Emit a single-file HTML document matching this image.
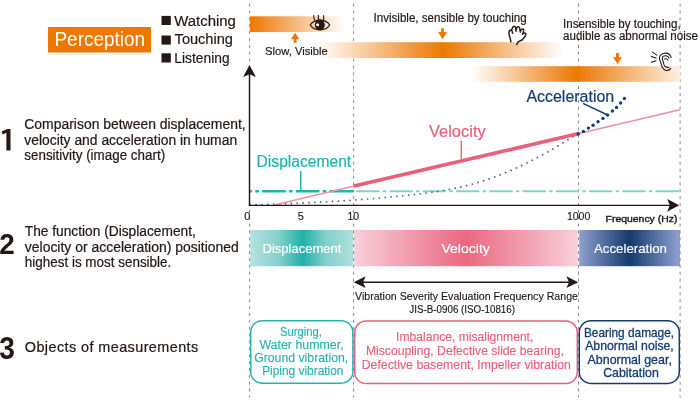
<!DOCTYPE html>
<html>
<head>
<meta charset="utf-8">
<title>Vibration perception chart</title>
<style>
html,body{margin:0;padding:0;background:#fff;}
body{width:700px;height:400px;overflow:hidden;font-family:"Liberation Sans",sans-serif;}
svg{display:block;}
text{font-family:"Liberation Sans",sans-serif;}
svg{will-change:transform;background:transparent;}
</style>
</head>
<body>
<svg width="700" height="400" viewBox="0 0 700 400">
<defs>
  <linearGradient id="gb1" x1="0" y1="0" x2="1" y2="0">
    <stop offset="0" stop-color="#ed7803"/>
    <stop offset="0.06" stop-color="#ee8011"/>
    <stop offset="1" stop-color="#ffffff"/>
  </linearGradient>
  <linearGradient id="gb2" x1="0" y1="0" x2="1" y2="0">
    <stop offset="0" stop-color="#ffffff"/>
    <stop offset="0.51" stop-color="#ed7803"/>
    <stop offset="1" stop-color="#ffffff"/>
  </linearGradient>
  <linearGradient id="gb3" gradientUnits="userSpaceOnUse" x1="471" y1="0" x2="694" y2="0">
    <stop offset="0" stop-color="#ffffff"/>
    <stop offset="0.473" stop-color="#ed7803"/>
    <stop offset="1" stop-color="#ffffff"/>
  </linearGradient>
  <linearGradient id="gd" x1="0" y1="0" x2="1" y2="0">
    <stop offset="0" stop-color="#b4e2df"/>
    <stop offset="0.28" stop-color="#84d0cb"/>
    <stop offset="0.43" stop-color="#45bbb5"/>
    <stop offset="0.51" stop-color="#1fb1aa"/>
    <stop offset="0.59" stop-color="#45bbb5"/>
    <stop offset="0.74" stop-color="#84d0cb"/>
    <stop offset="1" stop-color="#b0e0dd"/>
  </linearGradient>
  <linearGradient id="gv" x1="0" y1="0" x2="1" y2="0">
    <stop offset="0" stop-color="#f9cfdb"/>
    <stop offset="0.5" stop-color="#eb6881"/>
    <stop offset="1" stop-color="#f9cfdb"/>
  </linearGradient>
  <linearGradient id="ga" x1="0" y1="0" x2="1" y2="0">
    <stop offset="0" stop-color="#90a0d0"/>
    <stop offset="0.5" stop-color="#153a6c"/>
    <stop offset="1" stop-color="#90a2d2"/>
  </linearGradient>
</defs>

<!-- function bar fills -->
<rect x="250.2" y="230" width="102.9" height="36.2" fill="url(#gd)"/>
<rect x="354.1" y="230" width="223.7" height="36.2" fill="url(#gv)"/>
<rect x="579.2" y="230" width="100.8" height="36.2" fill="url(#ga)"/>

<!-- vertical dashed guides -->
<g stroke="#626262" stroke-width="0.75" stroke-dasharray="3 3.875" fill="none">
  <line x1="249.6" y1="3.6" x2="249.6" y2="397.5"/>
  <line x1="353.6" y1="3.6" x2="353.6" y2="397.5"/>
  <line x1="578.5" y1="3.6" x2="578.5" y2="397.5"/>
  <line x1="680.1" y1="3.6" x2="680.1" y2="397.5"/>
</g>

<!-- perception bars -->
<rect x="250" y="16.3" width="95" height="15.8" fill="url(#gb1)"/>
<rect x="318" y="42.2" width="245" height="15.8" fill="url(#gb2)"/>
<rect x="471" y="66.2" width="209.3" height="15.6" fill="url(#gb3)"/>


<!-- Perception box -->
<rect x="48" y="27" width="103" height="25.5" fill="#ed7801"/>
<text x="54.5" y="45.5" font-size="19.5" fill="#ffffff" textLength="90.5" lengthAdjust="spacingAndGlyphs">Perception</text>

<!-- bullets -->
<g fill="#231815">
  <rect x="161.5" y="15.9" width="9.3" height="9.1"/>
  <rect x="161.5" y="35.5" width="9.3" height="9.1"/>
  <rect x="161.5" y="53.3" width="9.3" height="9.2"/>
  <g font-size="15.1" stroke="#231815" stroke-width="0.2">
    <text x="174.3" y="25.5" textLength="61.6" lengthAdjust="spacingAndGlyphs">Watching</text>
    <text x="174.6" y="44.2" textLength="58.3" lengthAdjust="spacingAndGlyphs">Touching</text>
    <text x="174.3" y="62.5" textLength="55.3" lengthAdjust="spacingAndGlyphs">Listening</text>
  </g>
</g>

<!-- small orange arrows -->
<g fill="#ed7803">
  <path d="M295.1 32.7 L299.3 39.3 L296.5 39.3 L296.5 42.8 L293.7 42.8 L293.7 39.3 L290.9 39.3 Z"/>
  <path d="M442.5 39.6 L438.1 32 L441.1 32 L441.1 28.3 L443.9 28.3 L443.9 32 L447 32 Z"/>
  <path d="M617.5 64.1 L613.1 57.2 L616 57.2 L616 53 L618.9 53 L618.9 57.2 L622 57.2 Z"/>
</g>

<!-- perception captions -->
<g fill="#231815" font-size="11.5" stroke="#231815" stroke-width="0.2">
  <text x="265" y="54.6" font-size="11.8" textLength="62.7" lengthAdjust="spacingAndGlyphs">Slow, Visible</text>
  <text x="373.6" y="22.3" font-size="12" textLength="153" lengthAdjust="spacingAndGlyphs">Invisible, sensible by touching</text>
  <text x="563.1" y="28.1" font-size="12" textLength="117.6" lengthAdjust="spacingAndGlyphs">Insensible by touching,</text>
  <text x="563.1" y="39.9" font-size="12" textLength="134.8" lengthAdjust="spacingAndGlyphs">audible as abnormal noise</text>
</g>

<!-- eye icon -->
<g>
  <path d="M310.2 25 C312.6 21.6 316 20.2 320 20.2 C324 20.2 327.4 21.6 329.7 25 C327.4 28.5 324 29.9 320 29.9 C316 29.9 312.6 28.5 310.2 25 Z" fill="none" stroke="#231815" stroke-width="1.3" stroke-linejoin="round"/>
  <ellipse cx="319.8" cy="24.9" rx="5" ry="5.3" fill="#231815"/>
  <circle cx="317.6" cy="24.7" r="1.5" fill="#ffffff"/>
  <g stroke="#231815" stroke-width="1.1" fill="none" stroke-linecap="round">
    <path d="M313.9 15.6 Q313.6 18 314.6 20"/>
    <path d="M318.4 15.3 L318.4 19.6"/>
    <path d="M323.6 15.6 Q323.9 18 323.6 20.4"/>
  </g>
</g>

<!-- hand icon -->
<path d="M510.9 41.9 C510.6 38.6 508.7 35 508.9 32.4 C509.1 30.6 510.6 29.9 511.7 29.7 L512.6 33.4 M511.7 29.7 C512.1 28.6 512.5 27.2 513.3 26.6 C514.2 26 515.2 26.3 515.4 27.2 L516.1 31.4 M516.2 29.6 C516.3 28.4 516.6 27.4 517.4 27 C518.3 26.6 519.3 26.8 519.6 27.7 L520.3 32.1 M520.6 31 C521 30 521.5 29.2 522.3 29 C523.2 28.8 523.9 29.4 523.7 30.4 L522.5 34.4 M522.9 33.9 C523.6 33.3 524.5 32.8 525.3 33.1 C526 33.5 526.1 34.3 525.7 35.1 C524.8 36.9 523.8 38.4 522.5 39.6 C521.2 40.7 519.4 41 518.2 41.9 C517.5 42.6 517.2 43.6 516.8 44.5" fill="none" stroke="#231815" stroke-width="1.4" stroke-linejoin="round" stroke-linecap="round"/>

<!-- ear icon -->
<g fill="none" stroke="#231815" stroke-width="1.05" stroke-linecap="round">
  <path d="M671.1 57.6 C670.6 55.2 668.6 53.1 665.5 53.1 C662 53.1 659.4 55.6 659.4 58.3 C659.4 60 660.3 61 660.8 62.5 C661.4 64.2 661.2 65.4 662.1 66.9 C663 68.6 664.2 70.2 666.2 70.4 C668.2 70.6 669.9 69.8 670.8 68.4"/>
  <path d="M668.9 58.2 C668.6 56.6 667.3 55.7 665.5 55.7 C663.6 55.7 662.3 56.7 662.3 58.4 C662.3 59.8 663 60.8 663.4 62.4 C663.8 64 663.7 65 664.8 66.2 C665.8 67.2 667.3 67.6 668.7 67.2"/>
  <path d="M664.6 59 C666 58.2 667.6 59 668 60.3"/>
  <path d="M652.4 52.1 L656.9 55.1"/>
  <path d="M651.3 56.6 L656.1 58.1"/>
  <path d="M651.3 62.3 L656.1 60.8"/>
</g>

<!-- chart lines -->
<!-- displacement dash-dot -->
<line x1="250.2" y1="191.25" x2="353.4" y2="191.25" stroke="#21b3ad" stroke-width="2.3" stroke-dasharray="23.7 3.2 3.6 3.2" stroke-dashoffset="21.8"/>
<line x1="356.3" y1="191.25" x2="680" y2="191.25" stroke="#7fd5cf" stroke-width="2.2" stroke-dasharray="23.4 3.2 3.45 3.2"/>
<line x1="300.7" y1="171" x2="300.7" y2="191" stroke="#21b3ad" stroke-width="1.5"/>
<text x="256.6" y="166.8" font-size="15.6" fill="#21b3ad" stroke="#21b3ad" stroke-width="0.2" textLength="94.6" lengthAdjust="spacingAndGlyphs">Displacement</text>

<!-- acceleration small dots -->
<path d="M250.2 204.96 L256.0 204.77 L262.0 204.57 L268.0 204.37 L274.0 204.16 L280.0 203.94 L286.0 203.71 L292.0 203.46 L298.0 203.21 L304.0 202.94 L310.0 202.66 L316.0 202.36 L322.0 202.05 L328.0 201.71 L334.0 201.37 L340.0 201.00 L346.0 200.61 L352.0 200.20 L358.0 199.77 L364.0 199.32 L370.0 198.84 L376.0 198.34 L382.0 197.82 L388.0 197.27 L394.0 196.69 L400.0 196.08 L406.0 195.44 L412.0 194.78 L418.0 194.07 L424.0 193.32 L430.0 192.51 L436.0 191.63 L442.0 190.66 L448.0 189.60 L454.0 188.43 L460.0 187.14 L466.0 185.72 L472.0 184.17 L478.0 182.47 L484.0 180.62 L490.0 178.61 L496.0 176.45 L502.0 174.13 L508.0 171.68 L514.0 169.07 L520.0 166.33 L526.0 163.45 L532.0 160.44 L538.0 157.29 L544.0 154.02 L550.0 150.62 L556.0 147.10 L562.0 143.47 L568.0 139.8 L574.0 136.2 L578.5 133.6" fill="none" stroke="#4a6499" stroke-width="1.8" stroke-linecap="round" stroke-linejoin="round" stroke-dasharray="0.01 5.87"/>

<!-- velocity -->
<line x1="274.2" y1="204.9" x2="354" y2="186.05" stroke="#f08fa2" stroke-width="1.5"/>
<line x1="579" y1="133.5" x2="680" y2="109.7" stroke="#f08fa2" stroke-width="1.5"/>
<line x1="354" y1="186.05" x2="579" y2="133.5" stroke="#e9607a" stroke-width="3.7"/>
<line x1="461.3" y1="140.7" x2="461.3" y2="158.7" stroke="#e9607a" stroke-width="1.45"/>
<text x="429" y="137.3" font-size="16" fill="#e9607a" stroke="#e9607a" stroke-width="0.2" textLength="56.7" lengthAdjust="spacingAndGlyphs">Velocity</text>

<!-- acceleration big dots -->
<g fill="#173c72">
  <circle cx="578.2" cy="134" r="1.7"/>
  <circle cx="583.4" cy="131.4" r="1.7"/>
  <circle cx="588.4" cy="128.1" r="1.7"/>
  <circle cx="593.1" cy="125.2" r="1.7"/>
  <circle cx="598" cy="121.8" r="1.7"/>
  <circle cx="603" cy="118.4" r="1.7"/>
  <circle cx="607.6" cy="115" r="1.7"/>
  <circle cx="612.4" cy="111" r="1.7"/>
  <circle cx="616.6" cy="107.4" r="1.7"/>
  <circle cx="620.6" cy="103" r="1.7"/>
  <circle cx="624.4" cy="98.4" r="1.7"/>
</g>
<line x1="583" y1="103.4" x2="607.6" y2="115" stroke="#173c72" stroke-width="1.4"/>
<text x="526.4" y="101.8" font-size="15.8" fill="#173c72" stroke="#173c72" stroke-width="0.2" textLength="87.8" lengthAdjust="spacingAndGlyphs">Acceleration</text>

<!-- axes -->
<g stroke="#231815" stroke-width="1.45" fill="none">
  <line x1="249.5" y1="74" x2="249.5" y2="206.07"/>
  <line x1="248.78" y1="205.35" x2="670" y2="205.35"/>
</g>
<path d="M249.5 64.9 L255.9 76.9 L249.5 74.2 L243.1 76.9 Z" fill="#231815"/>
<path d="M679.1 205.35 L667.2 211.8 L669.8 205.35 L667.2 198.9 Z" fill="#231815"/>

<!-- tick labels -->
<g fill="#231815" font-size="11" stroke="#231815" stroke-width="0.15">
  <text x="247.2" y="219.8" text-anchor="middle">0</text>
  <text x="300.8" y="219.8" text-anchor="middle">5</text>
  <text x="353.2" y="219.8" text-anchor="middle" textLength="11.6" lengthAdjust="spacingAndGlyphs">10</text>
  <text x="578.6" y="219.7" text-anchor="middle" textLength="23.4" lengthAdjust="spacingAndGlyphs">1000</text>
  <text x="605.6" y="221.9" font-size="9.8" stroke="#231815" stroke-width="0.4" textLength="71.8" lengthAdjust="spacingAndGlyphs">Frequency (Hz)</text>
</g>

<!-- function bars -->
<g fill="#ffffff" font-size="13" stroke="#ffffff" stroke-width="0.15">
  <text x="262.5" y="253.3" textLength="79" lengthAdjust="spacingAndGlyphs">Displacement</text>
  <text x="441.5" y="253.3" textLength="48.3" lengthAdjust="spacingAndGlyphs">Velocity</text>
  <text x="594" y="253.3" textLength="73" lengthAdjust="spacingAndGlyphs">Acceleration</text>
</g>

<!-- range arrow -->
<line x1="362" y1="282.2" x2="570" y2="282.2" stroke="#231815" stroke-width="1.4"/>
<path d="M353.8 282.2 L365.6 276.3 L363 282.2 L365.6 288.1 Z" fill="#231815"/>
<path d="M578.2 282.2 L566.4 276.3 L569 282.2 L566.4 288.1 Z" fill="#231815"/>
<g fill="#231815" stroke="#231815" stroke-width="0.15">
  <text x="355" y="299.6" font-size="11.4" textLength="223" lengthAdjust="spacingAndGlyphs">Vibration Severity Evaluation Frequency Range</text>
  <text x="409.3" y="312.5" font-size="10" textLength="105.7" lengthAdjust="spacingAndGlyphs">JIS-B-0906 (ISO-10816)</text>
</g>

<!-- boxes -->
<rect x="250.7" y="320.8" width="102.2" height="62.4" rx="11.5" ry="11.5" fill="#ffffff" stroke="#27b3ad" stroke-width="1.5"/>
<rect x="354.7" y="321" width="222.6" height="62.6" rx="11.5" ry="11.5" fill="#ffffff" stroke="#e9607a" stroke-width="1.5"/>
<rect x="579.3" y="320.8" width="100" height="62.6" rx="11.5" ry="11.5" fill="#ffffff" stroke="#173c72" stroke-width="1.5"/>

<g fill="#27b3ad" font-size="12.7" text-anchor="middle" stroke="#27b3ad" stroke-width="0.15">
  <text x="301" y="335.8" textLength="41.8" lengthAdjust="spacingAndGlyphs">Surging,</text>
  <text x="301.5" y="349" textLength="84.2" lengthAdjust="spacingAndGlyphs">Water hummer,</text>
  <text x="301.2" y="362" textLength="94" lengthAdjust="spacingAndGlyphs">Ground vibration,</text>
  <text x="302.8" y="375" textLength="81.3" lengthAdjust="spacingAndGlyphs">Piping vibration</text>
</g>
<g fill="#e9607a" font-size="12.7" text-anchor="middle" stroke="#e9607a" stroke-width="0.15">
  <text x="464.7" y="341.4" textLength="137.3" lengthAdjust="spacingAndGlyphs">Imbalance, misalignment,</text>
  <text x="464.9" y="355.3" textLength="198" lengthAdjust="spacingAndGlyphs">Miscoupling, Defective slide bearing,</text>
  <text x="466.3" y="368.8" textLength="209.2" lengthAdjust="spacingAndGlyphs">Defective basement, Impeller vibration</text>
</g>
<g fill="#173c72" font-size="12.6" text-anchor="middle" stroke="#173c72" stroke-width="0.3">
  <text x="629" y="337" textLength="90.2" lengthAdjust="spacingAndGlyphs">Bearing damage,</text>
  <text x="629.5" y="350.2" textLength="88.6" lengthAdjust="spacingAndGlyphs">Abnormal noise,</text>
  <text x="629.7" y="363.5" textLength="84.3" lengthAdjust="spacingAndGlyphs">Abnormal gear,</text>
  <text x="631" y="376.7" textLength="55.6" lengthAdjust="spacingAndGlyphs">Cabitation</text>
</g>

<!-- left captions -->
<g fill="#231815">
  <path d="M10.5 129.1 L10.5 150.5 L6.4 150.5 L6.4 132.7 L2.7 134.5 L1.6 131.6 L7.4 129.1 Z"/>
  <text x="-0.8" y="254.3" font-size="30" font-weight="700" textLength="15.5" lengthAdjust="spacingAndGlyphs">2</text>
  <text x="-0.8" y="359" font-size="31.3" font-weight="700" textLength="15.6" lengthAdjust="spacingAndGlyphs">3</text>
  <g font-size="14" stroke="#231815" stroke-width="0.22">
    <text x="24.3" y="129.2" textLength="221.4" lengthAdjust="spacingAndGlyphs">Comparison between displacement,</text>
    <text x="24.3" y="144.6" textLength="212.8" lengthAdjust="spacingAndGlyphs">velocity and acceleration in human</text>
    <text x="24.3" y="159.9" textLength="140.8" lengthAdjust="spacingAndGlyphs">sensitivity (image chart)</text>
    <text x="24.8" y="235.6" textLength="171" lengthAdjust="spacingAndGlyphs">The function (Displacement,</text>
    <text x="24.8" y="251.6" textLength="214" lengthAdjust="spacingAndGlyphs">velocity or acceleration) positioned</text>
    <text x="24.8" y="266.8" textLength="146.5" lengthAdjust="spacingAndGlyphs">highest is most sensible.</text>
    <text x="24.8" y="352.2" font-size="14.4" textLength="173.4" lengthAdjust="spacing">Objects of measurements</text>
  </g>
</g>
</svg>
</body>
</html>
